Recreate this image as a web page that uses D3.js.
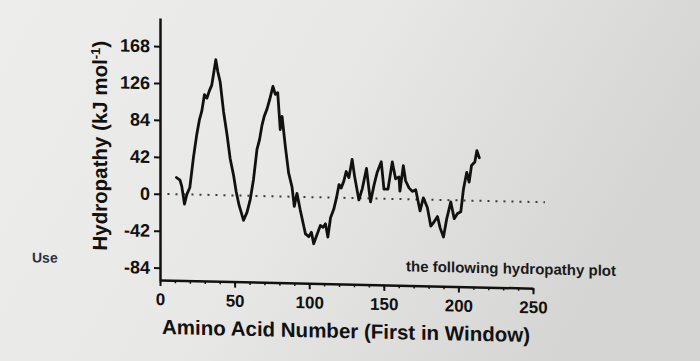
<!DOCTYPE html>
<html>
<head>
<meta charset="utf-8">
<script src="https://cdn.jsdelivr.net/npm/d3@7"></script>
<style>
  html, body { margin: 0; padding: 0; background: #e4e4e2; }
  svg { display: block; font-family: "Liberation Sans", Arial, Helvetica, sans-serif; font-weight: bold; }
</style>
</head>
<body>
<svg id="chart" width="700" height="361"></svg>
<script>
// ---- data ----
const residue = [11, 13.4, 14.6, 16.4, 18, 20, 22.4, 24.6, 26.4, 28, 29.8, 31.4, 33, 34.7, 36.3, 37.4, 38.8, 40.3, 42.6, 45, 47, 49.3, 51.1, 53, 56, 58.3, 60.5, 62.7, 65, 66.7, 68.3, 69.9, 71.7, 73.5, 75.7, 77.3, 78.9, 80.6, 81.8, 84, 86.2, 88.5, 90, 91.8, 94, 97.5, 99.7, 101.5, 103, 105.3, 107.5, 109.3, 110.9, 112.5, 114.3, 116.5, 118.3, 120, 121.4, 123.2, 124.8, 126.6, 128.8, 130.4, 133.3, 135.6, 138.4, 140, 141.1, 143.4, 145.6, 148.3, 150.1, 152.8, 155.7, 157.9, 160.2, 160.8, 163.1, 164.6, 166.9, 169.1, 171.4, 172.5, 174.3, 176.5, 179.2, 181.5, 183.7, 186, 187.8, 190, 192.2, 194.9, 197.2, 199.4, 201.6, 203.4, 205.6, 207.2, 208.8, 211, 212.4, 214];
const hydropathy = [19, 16, 9, -11, 0, 8, 42, 68, 85, 95, 114, 110, 118, 125, 142, 154, 140, 129, 95, 68, 42, 23, 4, -11, -28, -19, -4, 19, 53, 64, 80, 91, 99, 110, 125, 116, 118, 76, 91, 57, 27, 11, -11, 4, -15, -42, -45, -40, -53, -42, -32, -34, -30, -45, -23, -13, 0, 15, 11, 19, 30, 23, 44, 25, -2, 11, 34, 11, -4, 15, 30, 42, 11, 11, 42, 23, 25, 9, 38, 21, 13, 9, 11, 2, -13, 2, -9, -30, -25, -19, -32, -42, -21, -2, -21, -15, -13, 13, 32, 21, 40, 44, 57, 49];
const yTicks = [-84, -42, 0, 42, 84, 126, 168];
const xTicks = [0, 50, 100, 150, 200, 250];
const xMinorTicks = d3.range(0, 251, 10);
const yTitle = "Hydropathy (kJ mol";
const yTitleSup = "-1";
const xTitle = "Amino Acid Number (First in Window)";
const noteLeft = "Use";
const noteRight = "the following hydropathy plot";

// ---- drawing ----
const svg = d3.select("#chart");
const defs = svg.append("defs");
const grad = defs.append("linearGradient").attr("id", "bg").attr("x1", "0").attr("y1", "0").attr("x2", "1").attr("y2", "0.3");
grad.append("stop").attr("offset", "0").attr("stop-color", "#ededeb");
grad.append("stop").attr("offset", "0.5").attr("stop-color", "#e8e8e6");
grad.append("stop").attr("offset", "1").attr("stop-color", "#d5d5d3");
svg.append("rect").attr("width", 700).attr("height", 361).attr("fill", "url(#bg)");

const g = svg.append("g").attr("transform", "translate(160,0) skewY(1.25) translate(-160,0)");

const x = d3.scaleLinear().domain([0, 250]).range([160, 533]);
const y = d3.scaleLinear().domain([-98, 200]).range([280, 18]);
const fmt = d => String(d);

// zero reference (dotted)
g.append("line")
  .attr("x1", x(5)).attr("x2", x(258))
  .attr("y1", y(0)).attr("y2", y(0))
  .attr("stroke", "#3a3a3a").attr("stroke-width", 2)
  .attr("stroke-dasharray", "2,6");

// minor x ticks
const xMinor = g.append("g").attr("transform", `translate(0,${y(-98)})`)
  .call(d3.axisBottom(x).tickValues(xMinorTicks).tickSize(3).tickSizeOuter(0).tickFormat(""));
xMinor.select(".domain").remove();
xMinor.selectAll("line").attr("stroke", "#111").attr("stroke-width", 1.5);

// x axis
const xAxis = g.append("g").attr("transform", `translate(0,${y(-98)})`)
  .call(d3.axisBottom(x).tickValues(xTicks).tickFormat(fmt).tickSize(6).tickSizeOuter(0).tickPadding(7));
xAxis.select(".domain").attr("stroke", "#111").attr("stroke-width", 2.5);
xAxis.selectAll("line").attr("stroke", "#111").attr("stroke-width", 2);
xAxis.selectAll("text").attr("fill", "#111").attr("font-size", 17).attr("font-weight", "bold")
  .attr("font-family", "'Liberation Sans', Arial, sans-serif");

// y axis
const yAxis = g.append("g").attr("transform", `translate(${x(0)},0)`)
  .call(d3.axisLeft(y).tickValues(yTicks).tickFormat(fmt).tickSize(6).tickSizeOuter(0).tickPadding(4));
yAxis.select(".domain").attr("stroke", "#111").attr("stroke-width", 2.5);
yAxis.selectAll("line").attr("stroke", "#111").attr("stroke-width", 2);
yAxis.selectAll("text").attr("fill", "#111").attr("font-size", 18).attr("font-weight", "bold")
  .attr("font-family", "'Liberation Sans', Arial, sans-serif");

// data line
const pts = residue.map((r, i) => [r, hydropathy[i]]);
g.append("path").datum(pts)
  .attr("fill", "none").attr("stroke", "#111").attr("stroke-width", 2.8)
  .attr("stroke-linejoin", "round").attr("stroke-linecap", "round")
  .attr("d", d3.line().x(d => x(d[0])).y(d => y(d[1])));

// y title
const yt = g.append("text")
  .attr("transform", "translate(107,147) rotate(-90)")
  .attr("text-anchor", "middle").attr("font-size", 20.5).attr("fill", "#111")
  .text(yTitle);
yt.append("tspan").attr("font-size", 13).attr("baseline-shift", "super").text(yTitleSup);
yt.append("tspan").text(")");

// x title
g.append("text").attr("x", 346).attr("y", 334).attr("text-anchor", "middle")
  .attr("font-size", 20.5).attr("fill", "#111").text(xTitle);

// surrounding page text
g.append("text").attr("x", 32).attr("y", 265).attr("font-size", 14).attr("fill", "#2b2e40").text(noteLeft);
g.append("text").attr("x", 406).attr("y", 266).attr("font-size", 15).attr("fill", "#1a1a1a").text(noteRight);
</script>
</body>
</html>
